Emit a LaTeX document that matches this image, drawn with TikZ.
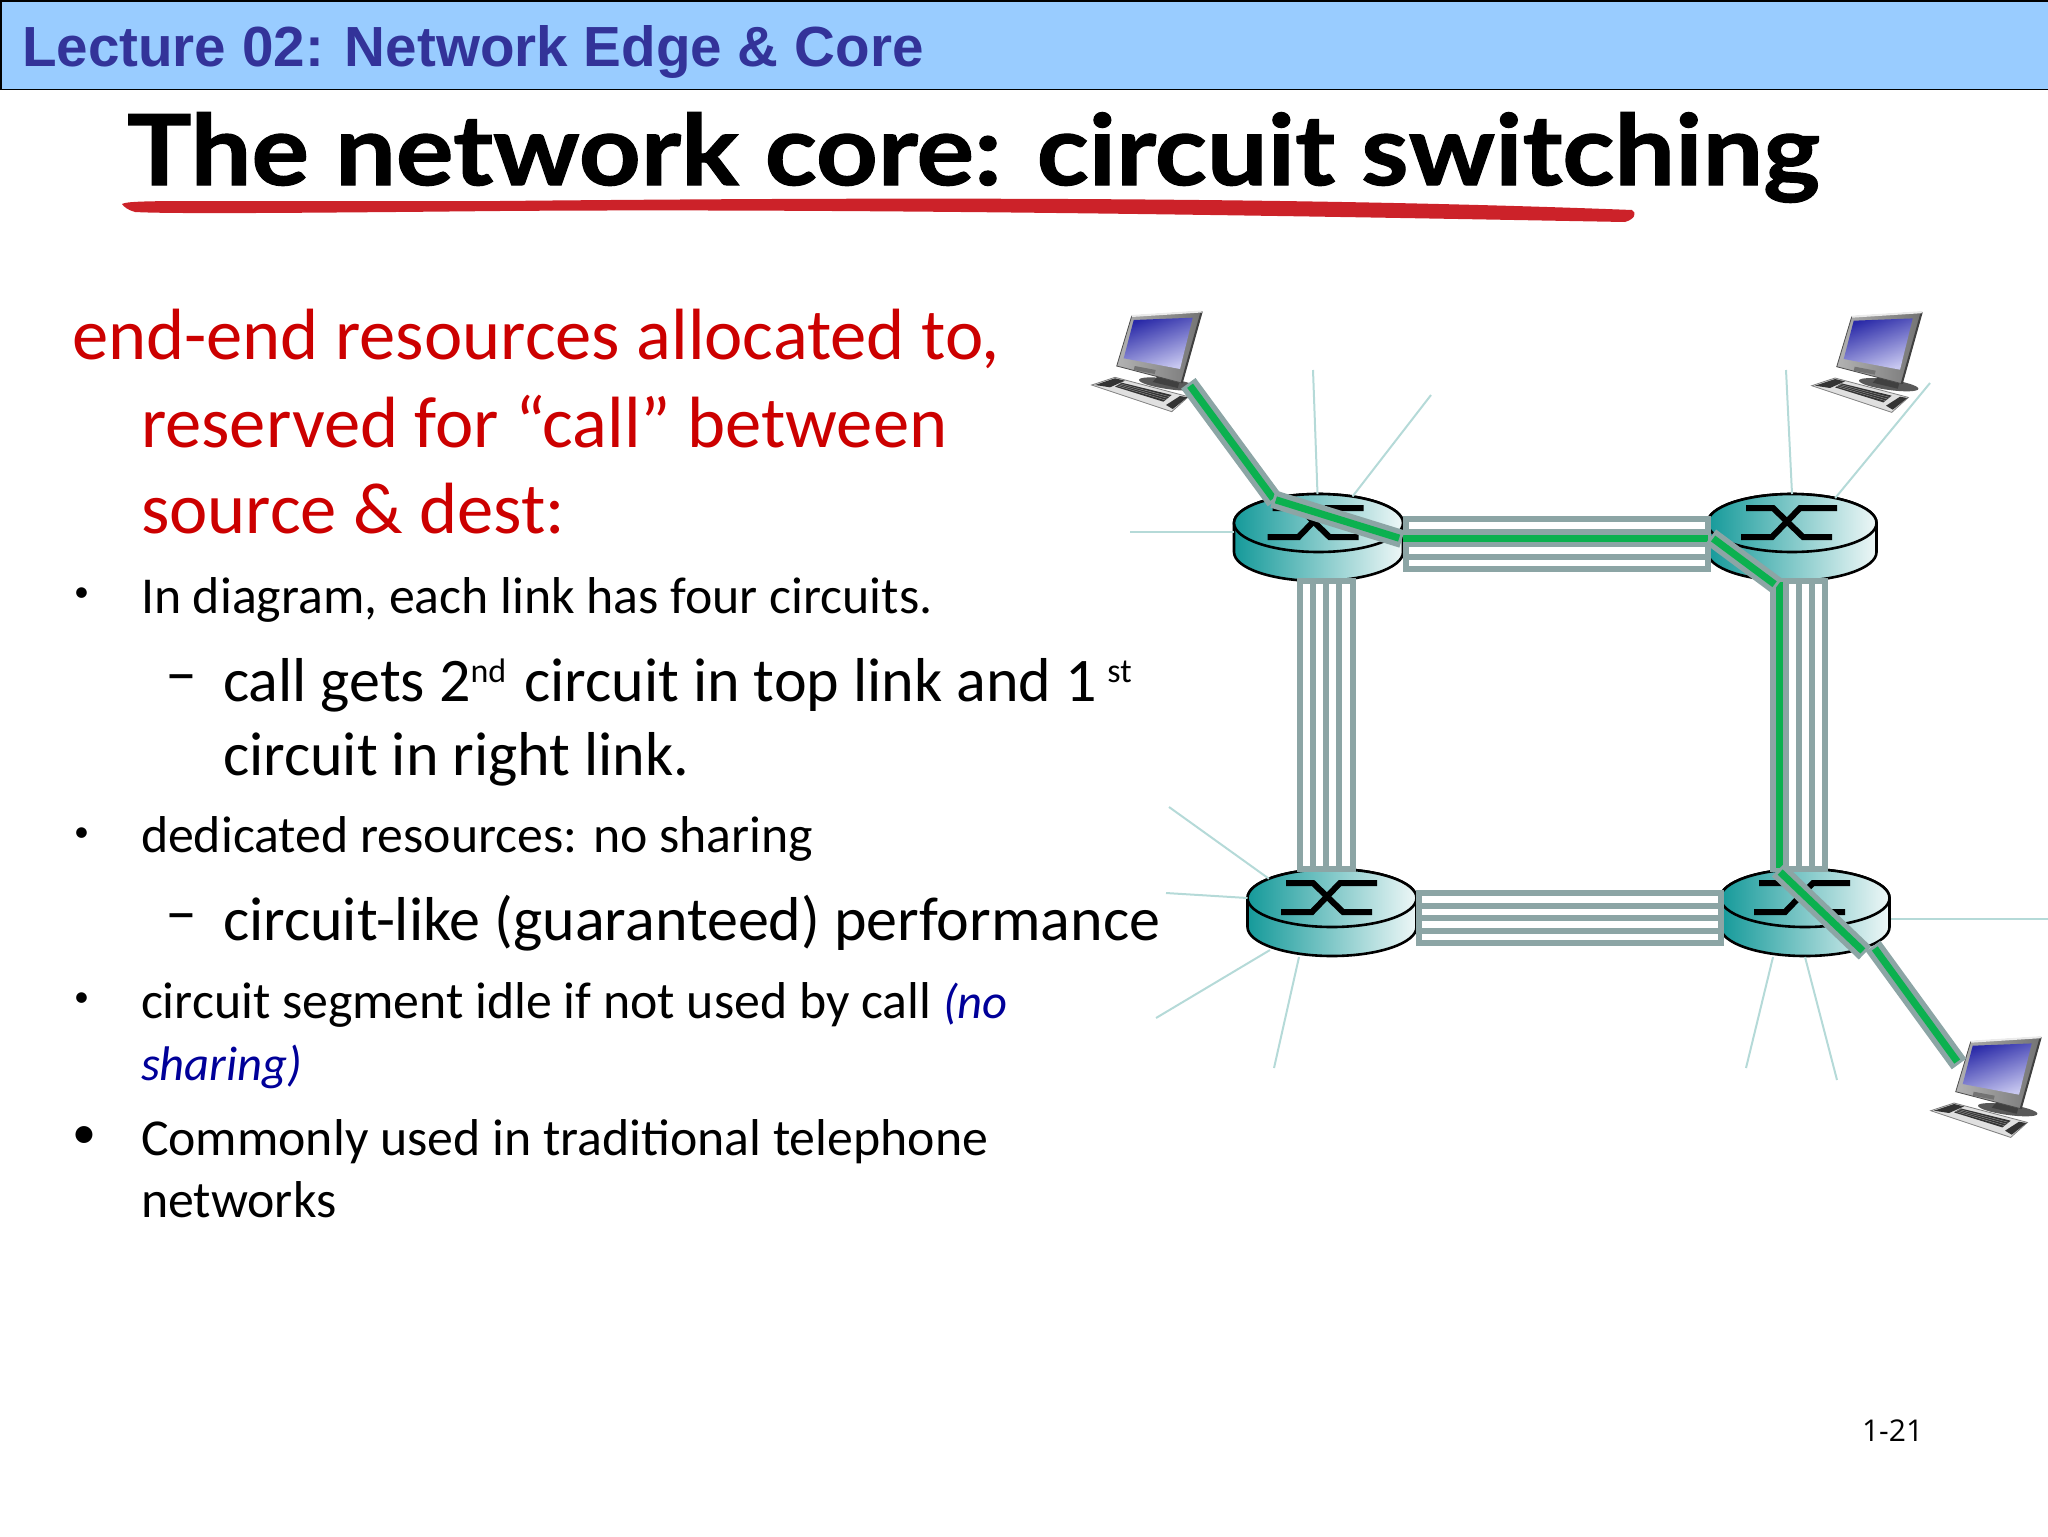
\documentclass[tikz,border=0pt]{standalone}
\usepackage{fontspec}
\setmainfont{Carlito}
\newfontfamily\headfont{Liberation Sans}
\newfontfamily\titlefont[FakeStretch=1.10,FakeBold=1.2]{Lato}
\newfontfamily\pagefont{Open Sans}
\usetikzlibrary{shapes.geometric}
\definecolor{headblue}{HTML}{99CCFF}
\definecolor{headink}{HTML}{333399}
\definecolor{linered}{HTML}{CC2229}
\definecolor{bodyred}{HTML}{CC0000}
\definecolor{darkblue}{HTML}{000099}
\definecolor{circuitgray}{HTML}{8CA5A5}
\definecolor{callgreen}{HTML}{0BB14F}
\definecolor{stubteal}{HTML}{B5DAD8}
\definecolor{routerteal}{HTML}{159A9A}
\definecolor{routerpale}{HTML}{EEF7F7}
\definecolor{screendeep}{HTML}{2A2AA8}
\definecolor{screenpale}{HTML}{C8C8F0}
\tikzset{every node/.style={inner sep=0pt,outer sep=0pt},
        textline/.style={anchor=base west,text=black,font=\fontsize{25.9}{25.9}\selectfont},
        redline/.style={textline,text=bodyred,font=\fontsize{36.3}{36.3}\selectfont},
        subline/.style={textline,font=\fontsize{31}{31}\selectfont},
        dotline/.style={textline,font=\fontsize{15}{15}\selectfont},
        dashline/.style={textline,font=\fontsize{32}{32}\selectfont},
        routertop/.style={ellipse,draw=black,line width=1.3pt,minimum width=84.5pt,minimum height=29pt,
                                  left color=routerteal,right color=routerpale},
        routerbody/.style={draw=black,line width=1.3pt,left color=routerteal,right color=routerpale},
        switchline/.style={line width=3pt,black},
        circuit/.style={draw=circuitgray,line width=3pt},
        stub/.style={stubteal,line width=1pt},
        callouter/.style={circuitgray,line width=9pt},
        callinner/.style={callgreen,line width=3.6pt,shorten >=1.5pt,shorten <=1.5pt},
        callband/.style={circuitgray,line width=9pt},
        }
\newcommand{\upmark}[1]{\raisebox{0.3em}{\fontsize{17}{17}\selectfont #1}}

% router: x, y of the top ellipse, name
\newcommand{\router}[3]{
    \begin{scope}[shift={(#1,#2)}]
        \path[routerbody] (-84.5,0) -- ++(0,29) arc[start angle=180,end angle=360,x radius=42.25pt,y radius=14.5pt]
            -- ++(0,-29) arc[start angle=0,end angle=180,x radius=42.25pt,y radius=14.5pt] -- cycle;
        \coordinate (#3base) at (0,58);
        \node[routertop] (#3) at (0,0) {};
        \draw[switchline] (-46,-15) -- (-19,-15) -- (11,14) -- (40,14);
        \draw[switchline] (-51,14) -- (-20,14) -- (8,-15) -- (45,-15);
    \end{scope}
}

% host: x, y of the screen's top left corner
\newcommand{\host}[2]{
    \begin{scope}[shift={(#1,#2)}]
        \fill[gray!70!black] (37,68) ellipse [x radius=15pt,y radius=2.6pt,rotate=-8];
        \fill[black!75] (27,59) -- (48,65) -- (46,72) -- (21,66) -- cycle;
        \path[draw=black!70,line width=0.4pt,left color=black!30,right color=black!55] (0,0) -- (70,-4.5) -- (50,67) -- (-15,50) -- cycle;
        \draw[black!75,line width=1pt] (70,-4.5) -- (50,67);
        \draw[black!8,line width=1pt] (0,0) -- (70,-4.5);
        \path[left color=screendeep,right color=screenpale,shading angle=20] (2,4) -- (61,1.7) -- (48.3,53) -- (-8,42.3) -- cycle;
        \fill[black!55] (3,50) -- (24,54) -- (23,58) -- (2,54) -- cycle;
        \path[fill=black!12,draw=black!50,line width=0.4pt] (-40,69) -- (-16.7,61.3) -- (56.7,80.7) -- (40,95.7) -- cycle;
        \fill[black!80] (-16.7,70.7) -- (-10,66.7) -- (40,79) -- (31.7,85.7) -- cycle;
        \fill[black!80] (-36.7,69) -- (-16.7,62.3) -- (-6.7,64.7) -- (-21.7,71.3) -- cycle;
        \fill[black!80] (34.3,89) -- (48.3,80) -- (55.7,81.3) -- (41,93) -- cycle;
        \foreach \k in {0.25,0.5,0.75}
            \draw[black!40,line width=0.2pt] (-16.7+6.7*\k,70.7-4*\k) -- (31.7+8.3*\k,85.7-6.7*\k);
    \end{scope}
}

\begin{document}
\begin{tikzpicture}[x=0.5pt,y=-0.5pt]
    \useasboundingbox (0,0) rectangle (2048,1536);

    % banner and title
    \draw[fill=headblue,draw=black,line width=0.9pt] (1,1) rectangle (2050,89.5);
    \node[anchor=base west,text=headink,font=\headfont\bfseries\fontsize{28.3}{28.3}\selectfont] (banner) at (22,67) {Lecture 02: Network Edge \& Core};
    \node[anchor=base west,font=\titlefont\bfseries\fontsize{49}{49}\selectfont] (title) at (127,185) {The network core: circuit switching};
    \fill[linered] (122,204) .. controls (130,199) and (200,202) .. (500,201)
        .. controls (900,197) and (1300,197) .. (1632,210)
        .. controls (1637,213) and (1635,219) .. (1625,222)
        .. controls (1400,218) and (900,208) .. (500,211)
        .. controls (300,213) and (170,214) .. (135,212) .. controls (128,210) and (124,207) .. (122,204) -- cycle;

    % left column
    \node[redline] (resa) at (72,359) {end-end resources allocated to,};
    \node[redline] (resb) at (141,447) {reserved for “call” between};
    \node[redline] (resc) at (141,533) {source \& dest:};
    \node[dotline] (bula) at (74,601) {•};
    \node[textline] (diaga) at (141,613) {In diagram, each link has four circuits.};
    \node[dashline] (dasha) at (165,694) {–};
    \node[subline] (gets) at (223,701) {call gets 2\upmark{nd}\hspace{2pt} circuit in top link and 1\,\upmark{st}};
    \node[subline] (getsb) at (223,775) {circuit in right link.};
    \node[dotline] (bulb) at (74,841) {•};
    \node[textline] (ded) at (141,852) {dedicated resources: no sharing};
    \node[dashline] (dashb) at (165,933) {–};
    \node[subline] (perf) at (223,940) {circuit-like (guaranteed) performance};
    \node[dotline] (bulc) at (74,1006) {•};
    \node[textline] (idle) at (141,1018) {circuit segment idle if not used by call \textcolor{darkblue}{\fontsize{24.3}{24.3}\selectfont\itshape (no}};
    \node[textline,text=darkblue,font=\fontsize{24.3}{24.3}\selectfont\itshape] (idleb) at (141,1080) {sharing)};
    \node[textline,font=\fontsize{24}{24}\selectfont] (buld) at (72,1148) {•};
    \node[textline] (comm) at (141,1155) {Commonly used in traditional telephone};
    \node[textline] (commb) at (141,1217) {networks};
    \node[anchor=base west,font=\pagefont\fontsize{15}{15}\selectfont] (pagenum) at (1862,1441) {1-21};

    % hosts and routers
    \host{1131.7}{316}
    \host{1851.7}{316.7}
    \host{1970.7}{1041.7}
    \router{1318.5}{523}{rtl}
    \router{1792}{523}{rtr}
    \router{1332}{898}{rbl}
    \router{1805}{898}{rbr}

    % free ends of the access lines
    \coordinate (sa) at (1313,370);
    \coordinate (sb) at (1431,395);
    \coordinate (sc) at (1130,532);
    \coordinate (sd) at (1786,370);
    \coordinate (se) at (1930,383);
    \coordinate (sf) at (1169,807);
    \coordinate (sg) at (1166,893);
    \coordinate (sh) at (1156,1018);
    \coordinate (si) at (1274,1068);
    \coordinate (sj) at (1746,1068);
    \coordinate (sk) at (1837,1080);
    \coordinate (sl) at (2048,919);
    \coordinate (ea) at (1270,950);
    \coordinate (eb) at (1299,957);
    \coordinate (ec) at (1773,957);
    \coordinate (ed) at (1805,957);
    \coordinate (ee) at (1891,919);
    \draw[stub] (rtl.92) -- (sa);
    \draw[stub] (rtl.38) -- (sb);
    \draw[stub] (rtl.west) ++(0,9) -- (sc);
    \draw[stub] (rtr.90) -- (sd);
    \draw[stub] (rtr.30) -- (se);
    \draw[stub] (rbl.163) -- (sf);
    \draw[stub] (rbl.west) -- (sg);
    \draw[stub] (ea) -- (sh);
    \draw[stub] (eb) -- (si);
    \draw[stub] (ec) -- (sj);
    \draw[stub] (ed) -- (sk);
    \draw[stub] (ee) -- (sl);

    % four circuits per link
    \draw[circuit] ([xshift=1.25pt]rtl.east |- 0,519.3) rectangle (rtr.west |- 0,569.3);
    \draw[circuit] ([xshift=1.25pt]rbl.east |- 0,893.3) rectangle (rbr.west |- 0,943.3);
    \foreach \d in {1,2,3} {
        \draw[circuit] (rtl.east |- 0,519.3+12.5*\d) -- (rtr.west |- 0,519.3+12.5*\d);
        \draw[circuit] (rbl.east |- 0,893.3+12.5*\d) -- (rbr.west |- 0,893.3+12.5*\d);
    }
    \draw[circuit] (1300,0 |- rtlbase) rectangle (1352.5,0 |- rbl.north);
    \draw[circuit] (1773,0 |- rtrbase) rectangle (1825,0 |- rbr.north);
    \foreach \d in {1,2,3} {
        \draw[circuit] (1300+13.1*\d,0 |- rtlbase) -- (1300+13.1*\d,0 |- rbl.north);
        \draw[circuit] (1773+13*\d,0 |- rtrbase) -- (1773+13*\d,0 |- rbr.north);
    }

    % the call
    \coordinate (ca) at (1188.3,383.3);
    \coordinate (cb) at (1275,501);
    \coordinate (cc) at (1273,499);
    \coordinate (cd) at (1402,539);
    \coordinate (ce) at (1403,538);
    \coordinate (cf) at (1708,538);
    \coordinate (cg) at (1710.7,536.7);
    \coordinate (ch) at (1777,586);
    \coordinate (ci) at (1779.5,582);
    \coordinate (cj) at (1779.5,868);
    \coordinate (ck) at (1778,870);
    \coordinate (cl) at (1865,953);
    \coordinate (cm) at (1873,946);
    \coordinate (cn) at (1959,1064);
    \draw[callband] (ce) -- (cf);
    \draw[callband] (ci) -- (cj);
    \draw[callgreen,line width=3.5pt] (ce) -- (cf);
    \draw[callgreen,line width=3.5pt] (ci) -- (cj);
    \foreach \a/\b in {ca/cb,cc/cd,cg/ch,ck/cl,cm/cn} {
        \draw[callouter] (\a) -- (\b);
        \draw[callinner] (\a) -- (\b);
    }
\end{tikzpicture}
\end{document}
